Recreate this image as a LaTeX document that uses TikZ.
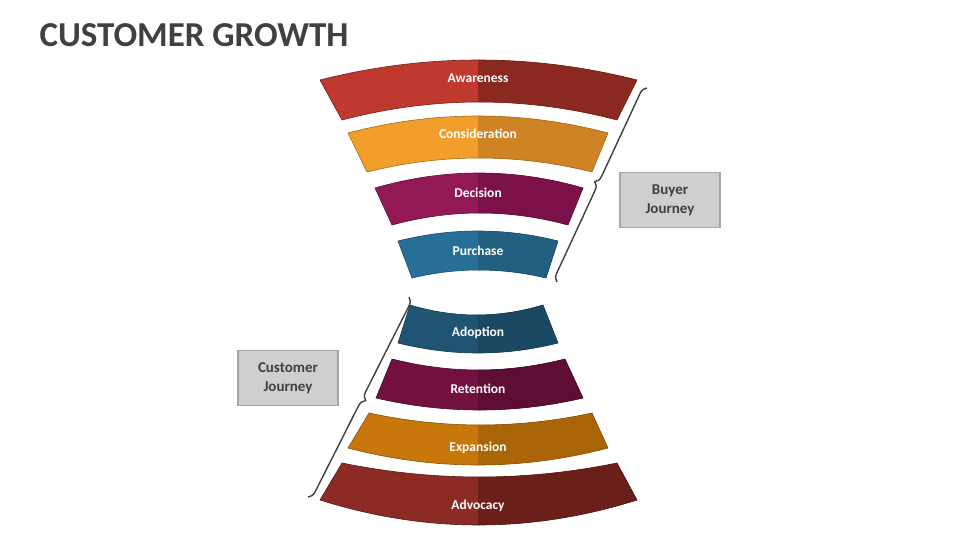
\documentclass[tikz,border=0pt]{standalone}
\usepackage{fontspec}
\setmainfont{Carlito}
\usetikzlibrary{decorations.pathreplacing}
\begin{document}
\begin{tikzpicture}[x=1pt,y=-1pt,
  lbl/.style={text=white,font=\fontsize{13.5}{15}\selectfont\bfseries},
  jbox/.style={draw=black!35,line width=1.5pt,fill=black!19,minimum width=100pt,minimum height=55pt,align=center,font=\fontsize{15}{19}\selectfont\bfseries,text=black!75},
  brc/.style={draw=black!75,line width=1.4pt,decorate,decoration={brace,amplitude=8pt}}]
\useasboundingbox (0,0) rectangle (960,540);
\fill[white] (0,0) rectangle (960,540);
\node[anchor=west,font=\fontsize{35}{40}\selectfont\bfseries,text=black!75] (title) at (36,35) {CUSTOMER GROWTH};
\def\segment#1#2#3#4{\segparse{#1}{#2}{#3}#4\relax}
\def\segparse#1#2#3#4,#5,#6,#7,#8,#9\relax{\def\sA{#4}\def\sB{#5}\def\sC{#6}\def\sD{#7}\def\sE{#8}\segfin{#1}{#2}{#3}#9\relax}
\def\segfin#1#2#3#4,#5,#6,#7\relax{%
  \def\P{(\sA,\sC) .. controls ({\sA+(\sB-\sA)/3},{(4*\sD-\sC)/3}) and ({\sA+2*(\sB-\sA)/3},{(4*\sD-\sC)/3}) .. (\sB,\sC) -- (#4,#5) .. controls ({\sE+2*(#4-\sE)/3},{(4*#6-#5)/3}) and ({\sE+(#4-\sE)/3},{(4*#6-#5)/3}) .. (\sE,#5) -- cycle}%
  \fill[#2] \P;
  \begin{scope}\clip (478,0) rectangle (960,540); \fill[#3] \P; \end{scope}
  \draw[#3!80!black,line width=0.6pt] \P;
  \node[lbl] (#1) at (478,{(\sD+#6)/2+#7}) {#1};}
\definecolor{c1a}{HTML}{C0392F}\definecolor{c1b}{HTML}{8B2820}
\definecolor{c2a}{HTML}{F29E2A}\definecolor{c2b}{HTML}{CE8424}
\definecolor{c3a}{HTML}{931856}\definecolor{c3b}{HTML}{7B1148}
\definecolor{c4a}{HTML}{276F96}\definecolor{c4b}{HTML}{225F80}
\definecolor{c5a}{HTML}{1F5573}\definecolor{c5b}{HTML}{1B4863}
\definecolor{c6a}{HTML}{72103F}\definecolor{c6b}{HTML}{5E0D34}
\definecolor{c7a}{HTML}{C8770B}\definecolor{c7b}{HTML}{AA6509}
\definecolor{c8a}{HTML}{8C2A24}\definecolor{c8b}{HTML}{6B1F1B}
\segment{Awareness}{c1a}{c1b}{320,637,80,60,342,617,120,102,-3}
\segment{Consideration}{c2a}{c2b}{348,608,133,116,367,592,172,158,-3}
\segment{Decision}{c3a}{c3b}{375,583,188,173,392,568,225,213,0}
\segment{Purchase}{c4a}{c4b}{398,558,241,231,412,546,278,270,0}
\segment{Adoption}{c5a}{c5b}{410,543,305,315,398,558,343,353,-1}
\segment{Retention}{c6a}{c6b}{392,565,359,370,376,583,398,410,-1}
\segment{Expansion}{c7a}{c7b}{369,592,413,425,348,608,448,465,3}
\segment{Advocacy}{c8a}{c8b}{342,617,463,477,320,637,500,525,5}
\node[jbox] (bj) at (670,200) {Buyer\\Journey};
\node[jbox] (cj) at (288,378) {Customer\\Journey};
\coordinate (b1s) at (647,88); \coordinate (b1e) at (557,282);
\coordinate (b2s) at (409,297); \coordinate (b2e) at (308,497);
\draw[brc] (b1e) -- (b1s);
\draw[brc] (b2s) -- (b2e);
\end{tikzpicture}
\end{document}
